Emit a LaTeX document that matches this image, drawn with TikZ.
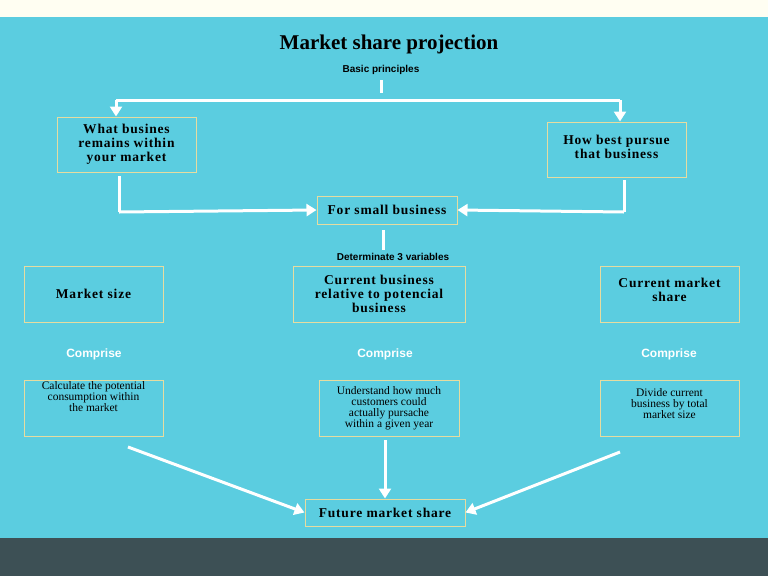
\documentclass[tikz,border=0pt]{standalone}
\usepackage{fontspec}
\setmainfont{Liberation Serif}
\setsansfont{Liberation Sans}
\usetikzlibrary{arrows.meta}
\definecolor{bgc}{HTML}{5BCDE0}
\definecolor{cream}{HTML}{FFFEF2}
\definecolor{darkc}{HTML}{3D5055}
\definecolor{boxc}{HTML}{E6DCA0}
\tikzset{
  bx/.style={draw=boxc,line width=1pt,align=center,font=\bfseries\addfontfeatures{LetterSpace=6}\fontsize{13.5}{14}\selectfont,inner sep=0pt},
  sbx/.style={draw=boxc,line width=1pt,align=center,font=\fontsize{11.5}{11}\selectfont,inner sep=0pt},
  wl/.style={draw=white,line width=3pt},
  wa/.style={draw=white,line width=3pt,-{Triangle[length=10pt,width=12pt]}},
  lab/.style={font=\sffamily\bfseries\fontsize{10}{10}\selectfont,text=black},
  clab/.style={font=\sffamily\bfseries\fontsize{12}{12}\selectfont,text=white}
}
\begin{document}
\begin{tikzpicture}[x=1pt,y=-1pt]
\fill[cream] (0,0) rectangle (768,576);
\fill[bgc] (0,17) rectangle (768,538);
\fill[darkc] (0,538) rectangle (768,576);
\node[font=\bfseries\fontsize{21}{21}\selectfont] (title) at (389,44) {Market share projection};
\node[lab] (bp) at (381,70) {Basic principles};
\node[bx,minimum width=139pt,minimum height=55pt] (what) at (126.5,144.5) {What busines\\remains within\\your market};
\node[bx,minimum width=139pt,minimum height=55pt] (how) at (616.5,149.5) {How best pursue\\that business\\[-8pt]};
\node[bx,minimum width=140pt,minimum height=28pt] (small) at (387,210) {For small business};
\node[lab] (det) at (393,257) {Determinate 3 variables};
\node[bx,minimum width=139pt,minimum height=56pt] (ms) at (93.5,294) {Market size};
\node[bx,minimum width=172pt,minimum height=56pt] (cb) at (379,294) {Current business\\relative to potencial\\business};
\node[bx,minimum width=139pt,minimum height=56pt] (cms) at (669.5,294) {Current market\\share\\[-6pt]};
\node[clab] (c1) at (94,354) {Comprise};
\node[clab] (c2) at (385,354) {Comprise};
\node[clab] (c3) at (669,354) {Comprise};
\node[sbx,minimum width=139pt,minimum height=56pt] (s1) at (93.5,408) {Calculate the potential\\consumption within\\the market\\[12pt]};
\node[sbx,minimum width=140pt,minimum height=56pt] (s2) at (389,408) {Understand how much\\customers could\\actually pursache\\within a given year};
\node[sbx,minimum width=139pt,minimum height=56pt] (s3) at (669.5,408) {Divide current\\business by total\\market size\\[-2pt]};
\node[bx,minimum width=160pt,minimum height=27pt] (fut) at (385,512.5) {Future market share};
\coordinate (t1) at (381,80); \coordinate (t2) at (381,93);
\draw[wl] (t1) -- (t2);
\coordinate (hl) at (116,100); \coordinate (hr) at (620,100);
\draw[wl] (hl) -- (hr);
\draw[wa] (hl) -- (what.north -| hl);
\draw[wa] (hr) -- (how.north -| hr);
\coordinate (lb) at (119,212); \coordinate (rb) at (624,212);
\draw[wl] (119,176) -- (lb);
\draw[wa] (lb) -- (small.west);
\draw[wl] (624,180) -- (rb);
\draw[wa] (rb) -- (small.east);
\draw[wl] (383,230) -- (383,250);
\draw[wa] (128,447) -- (fut.west);
\draw[wa] (385,440) -- (fut.north);
\draw[wa] (620,452) -- (fut.east);
\end{tikzpicture}
\end{document}
